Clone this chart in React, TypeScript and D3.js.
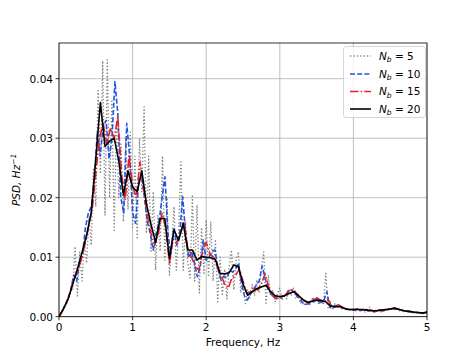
import React from 'react';
import * as d3 from 'd3';

// Frequency bin widths (Hz) of each PSD estimate
const STEP_NB5 = 0.03125;
const STEP_NB10 = 0.04;
const STEP_NB15 = 0.05;
const STEP_NB20 = 0.0625;

const psdNb5 = [
  0.0000, 0.0008, 0.0015, 0.0022, 0.0030, 0.0042, 0.0045, 0.0118, 0.0035, 0.0110,
  0.0060, 0.0125, 0.0090, 0.0165, 0.0120, 0.0250, 0.0185, 0.0380, 0.0240, 0.0430,
  0.0170, 0.0432, 0.0200, 0.0365, 0.0145, 0.0330, 0.0200, 0.0290, 0.0160, 0.0300,
  0.0180, 0.0310, 0.0150, 0.0270, 0.0130, 0.0300, 0.0210, 0.0353, 0.0140, 0.0270,
  0.0110, 0.0210, 0.0078, 0.0170, 0.0110, 0.0270, 0.0095, 0.0200, 0.0070, 0.0120,
  0.0185, 0.0078, 0.0140, 0.0263, 0.0078, 0.0160, 0.0090, 0.0065, 0.0205, 0.0060,
  0.0188, 0.0040, 0.0150, 0.0073, 0.0163, 0.0067, 0.0160, 0.0060, 0.0130, 0.0025,
  0.0100, 0.0035, 0.0080, 0.0030, 0.0085, 0.0112, 0.0045, 0.0095, 0.0109, 0.0040,
  0.0060, 0.0022, 0.0045, 0.0030, 0.0055, 0.0035, 0.0060, 0.0040, 0.0080, 0.0109,
  0.0020, 0.0070, 0.0035, 0.0045, 0.0025, 0.0040, 0.0048, 0.0028, 0.0038, 0.0030,
  0.0045, 0.0035, 0.0048, 0.0030, 0.0038, 0.0022, 0.0030, 0.0018, 0.0028, 0.0020,
  0.0030, 0.0022, 0.0032, 0.0020, 0.0028, 0.0020, 0.0073, 0.0015, 0.0025, 0.0012,
  0.0022, 0.0015, 0.0020, 0.0012, 0.0016, 0.0010, 0.0014, 0.0010, 0.0013, 0.0009,
  0.0014, 0.0010, 0.0012, 0.0008, 0.0013, 0.0016, 0.0008, 0.0012, 0.0009, 0.0011,
  0.0008, 0.0012, 0.0010, 0.0014, 0.0012, 0.0015, 0.0012, 0.0014, 0.0010, 0.0012,
  0.0008, 0.0010, 0.0007, 0.0009, 0.0006, 0.0008, 0.0005, 0.0007, 0.0005, 0.0006,
  0.0008,
];

const psdNb10 = [
  0.0000, 0.0008, 0.0018, 0.0030, 0.0045, 0.0070, 0.0060, 0.0090, 0.0105, 0.0150,
  0.0175, 0.0185, 0.0230, 0.0310, 0.0270, 0.0320, 0.0330, 0.0265, 0.0300, 0.0395,
  0.0340, 0.0200, 0.0174, 0.0325, 0.0270, 0.0175, 0.0157, 0.0225, 0.0240, 0.0200,
  0.0160, 0.0140, 0.0112, 0.0140, 0.0160, 0.0200, 0.0235, 0.0140, 0.0105, 0.0150,
  0.0120, 0.0140, 0.0202, 0.0140, 0.0099, 0.0110, 0.0090, 0.0067, 0.0085, 0.0129,
  0.0095, 0.0100, 0.0110, 0.0112, 0.0080, 0.0062, 0.0068, 0.0065, 0.0078, 0.0075,
  0.0080, 0.0090, 0.0055, 0.0035, 0.0028, 0.0038, 0.0045, 0.0053, 0.0060, 0.0085,
  0.0065, 0.0048, 0.0038, 0.0033, 0.0030, 0.0032, 0.0034, 0.0036, 0.0045, 0.0045,
  0.0040, 0.0034, 0.0028, 0.0022, 0.0021, 0.0022, 0.0025, 0.0030, 0.0026, 0.0024,
  0.0028, 0.0042, 0.0016, 0.0014, 0.0018, 0.0020, 0.0016, 0.0014, 0.0012, 0.0012,
  0.0011, 0.0012, 0.0010, 0.0011, 0.0012, 0.0010, 0.0011, 0.0008, 0.0010, 0.0011,
  0.0010, 0.0011, 0.0012, 0.0013, 0.0014, 0.0013, 0.0011, 0.0010, 0.0009, 0.0009,
  0.0008, 0.0007, 0.0007, 0.0006, 0.0006, 0.0008,
];

const psdNb15 = [
  0.0000, 0.0010, 0.0022, 0.0040, 0.0065, 0.0075, 0.0095, 0.0120, 0.0150, 0.0180,
  0.0240, 0.0300, 0.0325, 0.0290, 0.0317, 0.0300, 0.0336, 0.0240, 0.0196, 0.0270,
  0.0220, 0.0200, 0.0260, 0.0215, 0.0170, 0.0140, 0.0120, 0.0140, 0.0174, 0.0150,
  0.0090, 0.0130, 0.0125, 0.0140, 0.0160, 0.0115, 0.0100, 0.0085, 0.0078, 0.0110,
  0.0125, 0.0105, 0.0100, 0.0085, 0.0070, 0.0055, 0.0048, 0.0065, 0.0070, 0.0080,
  0.0060, 0.0040, 0.0042, 0.0050, 0.0045, 0.0055, 0.0072, 0.0050, 0.0035, 0.0032,
  0.0030, 0.0033, 0.0040, 0.0046, 0.0044, 0.0035, 0.0028, 0.0026, 0.0023, 0.0030,
  0.0032, 0.0028, 0.0024, 0.0030, 0.0018, 0.0018, 0.0020, 0.0016, 0.0013, 0.0012,
  0.0012, 0.0013, 0.0011, 0.0012, 0.0010, 0.0011, 0.0009, 0.0011, 0.0010, 0.0012,
  0.0013, 0.0015, 0.0013, 0.0011, 0.0010, 0.0009, 0.0008, 0.0007, 0.0007, 0.0006,
  0.0007,
];

const psdNb20 = [
  0.0000, 0.0014, 0.0030, 0.0055, 0.0080, 0.0108, 0.0137, 0.0175, 0.0265, 0.0360,
  0.0286, 0.0295, 0.0300, 0.0262, 0.0205, 0.0245, 0.0218, 0.0210, 0.0245, 0.0190,
  0.0155, 0.0125, 0.0165, 0.0165, 0.0098, 0.0146, 0.0128, 0.0157, 0.0112, 0.0112,
  0.0095, 0.0101, 0.0100, 0.0099, 0.0096, 0.0073, 0.0072, 0.0074, 0.0087, 0.0084,
  0.0055, 0.0036, 0.0042, 0.0047, 0.0050, 0.0053, 0.0042, 0.0035, 0.0034, 0.0035,
  0.0039, 0.0042, 0.0036, 0.0029, 0.0024, 0.0026, 0.0028, 0.0027, 0.0025, 0.0018,
  0.0017, 0.0017, 0.0014, 0.0012, 0.0012, 0.0012, 0.0012, 0.0011, 0.0010, 0.0010,
  0.0011, 0.0012, 0.0013, 0.0014, 0.0012, 0.0010, 0.0009, 0.0008, 0.0007, 0.0006,
  0.0008,
];

const seriesLabels = ['5', '10', '15', '20'];
const xTicks = [0, 1, 2, 3, 4, 5];
const yTicks = [0, 0.01, 0.02, 0.03, 0.04];

const W = 474;
const H = 355;
const M = { left: 59, right: 427, top: 43, bottom: 316.7 };
const FONT = 'DejaVu Sans, sans-serif';

export default function App() {
  const x = d3.scaleLinear().domain([0, 5]).range([M.left, M.right]);
  const y = d3.scaleLinear().domain([0, 0.046]).range([M.bottom, M.top]);

  const mk = (vals: number[], step: number) => vals.map((v, i) => [i * step, v] as [number, number]);
  const line = d3.line<[number, number]>().x(d => x(d[0])).y(d => y(d[1]));

  const series = [
    { data: mk(psdNb5, STEP_NB5), color: '#808080', width: 1.3, dash: '1.3 2.1', label: seriesLabels[0] },
    { data: mk(psdNb10, STEP_NB10), color: '#1f55e0', width: 1.6, dash: '5 2.2', label: seriesLabels[1] },
    { data: mk(psdNb15, STEP_NB15), color: '#e3202a', width: 1.6, dash: '8.5 2.2 1.4 2.2', label: seriesLabels[2] },
    { data: mk(psdNb20, STEP_NB20), color: '#000000', width: 1.6, dash: undefined as string | undefined, label: seriesLabels[3] },
  ];

  const legX = 343.5, legY = 46.5, legW = 82, legH = 71;
  const rowY = [56, 74, 91.5, 109];

  return (
    <svg width={W} height={H} style={{ position: 'absolute', left: 0, top: 0, background: '#fff' }} fontFamily={FONT}>
      <defs>
        <clipPath id="plotclip">
          <rect x={M.left} y={M.top} width={M.right - M.left} height={M.bottom - M.top} />
        </clipPath>
      </defs>
      <rect x={0} y={0} width={W} height={H} fill="#fff" />
      {/* grid */}
      {xTicks.map(t => (
        <line key={'gx' + t} x1={x(t)} x2={x(t)} y1={M.top} y2={M.bottom} stroke="#b0b0b0" strokeWidth={0.8} />
      ))}
      {yTicks.map(t => (
        <line key={'gy' + t} x1={M.left} x2={M.right} y1={y(t)} y2={y(t)} stroke="#b0b0b0" strokeWidth={0.8} />
      ))}
      {/* series */}
      <g clipPath="url(#plotclip)">
        {series.map((s, i) => (
          <path key={i} d={line(s.data) || ''} fill="none" stroke={s.color} strokeWidth={s.width}
            strokeDasharray={s.dash} strokeLinejoin="round" strokeLinecap="butt" />
        ))}
      </g>
      {/* spines */}
      <rect x={M.left} y={M.top} width={M.right - M.left} height={M.bottom - M.top} fill="none" stroke="#000" strokeWidth={0.8} />
      {/* ticks */}
      {xTicks.map(t => (
        <g key={'tx' + t}>
          <line x1={x(t)} x2={x(t)} y1={M.bottom} y2={M.bottom + 3.5} stroke="#000" strokeWidth={0.8} />
          <text x={x(t)} y={M.bottom + 14} fontSize={10.5} textAnchor="middle" fill="#000">{d3.format('d')(t)}</text>
        </g>
      ))}
      {yTicks.map(t => (
        <g key={'ty' + t}>
          <line x1={M.left - 3.5} x2={M.left} y1={y(t)} y2={y(t)} stroke="#000" strokeWidth={0.8} />
          <text x={M.left - 6} y={y(t) + 3.8} fontSize={10.5} textAnchor="end" fill="#000">{d3.format('.2f')(t)}</text>
        </g>
      ))}
      {/* axis labels */}
      <text x={(M.left + M.right) / 2} y={346} fontSize={10.5} textAnchor="middle" fill="#000">Frequency, Hz</text>
      <text transform={`translate(20, ${(M.top + M.bottom) / 2}) rotate(-90)`} fontSize={10.5} textAnchor="middle" fill="#000" fontStyle="italic">
        PSD, Hz<tspan dy={-4} fontSize={7.5}>−1</tspan>
      </text>
      {/* legend */}
      <rect x={legX} y={legY} width={legW} height={legH} rx={2.5} fill="#fff" fillOpacity={0.8} stroke="#cccccc" strokeWidth={0.8} />
      {series.map((s, i) => (
        <g key={'lg' + i}>
          <line x1={350} x2={371} y1={rowY[i]} y2={rowY[i]} stroke={s.color} strokeWidth={s.width} strokeDasharray={s.dash} />
          <text x={379} y={rowY[i] + 3.8} fontSize={10.5} fill="#000">
            <tspan fontStyle="italic">N</tspan>
            <tspan fontStyle="italic" fontSize={7.5} dy={2.5}>b</tspan>
            <tspan dy={-2.5}> = {s.label}</tspan>
          </text>
        </g>
      ))}
    </svg>
  );
}
